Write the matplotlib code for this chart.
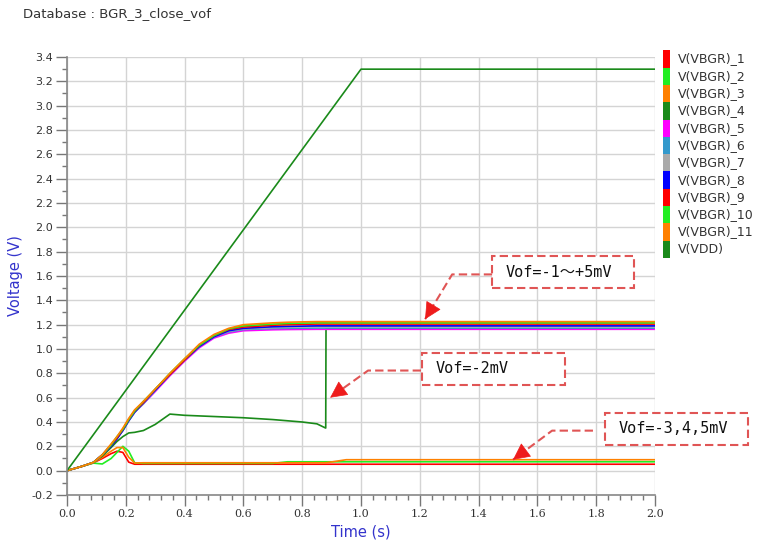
import numpy as np
import matplotlib
matplotlib.use("Agg")
import matplotlib.pyplot as plt
from matplotlib.patches import Rectangle


plt.rcParams['font.family'] = ['DejaVu Sans', 'Noto Sans CJK JP']

# sample times shared by the VBGR traces (s)
time_s = [0.00, 0.05, 0.09, 0.12, 0.15, 0.17, 0.19, 0.21, 0.23, 0.26,
          0.30, 0.35, 0.40, 0.45, 0.50, 0.55, 0.60, 0.70, 0.75, 0.80,
          0.85, 0.88, 0.881, 0.95, 1.20, 2.00]

# Vof = -5, -4, -3 mV : collapse to ~0.05 V
vbgr_1 = [0, 0.035, 0.065, 0.10, 0.14, 0.16, 0.15, 0.07, 0.053, 0.053,
          0.053, 0.053, 0.053, 0.053, 0.053, 0.053, 0.053, 0.053, 0.053, 0.053,
          0.053, 0.053, 0.053, 0.053, 0.053, 0.053]
vbgr_2 = [0, 0.035, 0.062, 0.055, 0.10, 0.15, 0.20, 0.16, 0.065, 0.060,
          0.060, 0.060, 0.060, 0.060, 0.060, 0.060, 0.060, 0.060, 0.073, 0.073,
          0.073, 0.073, 0.073, 0.073, 0.073, 0.073]
vbgr_3 = [0, 0.035, 0.066, 0.11, 0.16, 0.19, 0.19, 0.11, 0.063, 0.065,
          0.065, 0.065, 0.065, 0.065, 0.065, 0.065, 0.065, 0.065, 0.065, 0.065,
          0.065, 0.065, 0.065, 0.090, 0.090, 0.090]
# Vof = -2 mV : stuck low, jumps up at 0.88 s
vbgr_4 = [0, 0.035, 0.068, 0.12, 0.19, 0.24, 0.28, 0.31, 0.315, 0.33,
          0.38, 0.465, 0.455, 0.45, 0.445, 0.44, 0.435, 0.42, 0.41, 0.40,
          0.385, 0.35, 1.165, 1.165, 1.165, 1.165]
# Vof = -1 ... +5 mV : normal start-up
vbgr_5 = [0, 0.035, 0.068, 0.13, 0.21, 0.27, 0.34, 0.42, 0.48, 0.55,
          0.65, 0.78, 0.90, 1.01, 1.09, 1.13, 1.15, 1.158, 1.160, 1.161,
          1.162, 1.162, 1.162, 1.162, 1.162, 1.162]
vbgr_6 = [0, 0.035, 0.068, 0.13, 0.21, 0.27, 0.33, 0.41, 0.48, 0.55,
          0.66, 0.79, 0.91, 1.02, 1.10, 1.14, 1.16, 1.168, 1.170, 1.171,
          1.172, 1.172, 1.172, 1.172, 1.172, 1.172]
vbgr_7 = [0, 0.035, 0.068, 0.13, 0.21, 0.27, 0.33, 0.41, 0.48, 0.56,
          0.66, 0.79, 0.91, 1.02, 1.10, 1.145, 1.165, 1.175, 1.178, 1.180,
          1.182, 1.182, 1.182, 1.182, 1.182, 1.182]
vbgr_8 = [0, 0.035, 0.068, 0.13, 0.20, 0.26, 0.33, 0.41, 0.48, 0.56,
          0.66, 0.79, 0.91, 1.02, 1.10, 1.15, 1.17, 1.183, 1.186, 1.188,
          1.190, 1.190, 1.190, 1.190, 1.190, 1.190]
vbgr_9 = [0, 0.035, 0.068, 0.13, 0.21, 0.27, 0.34, 0.42, 0.49, 0.56,
          0.67, 0.79, 0.91, 1.03, 1.11, 1.16, 1.18, 1.195, 1.200, 1.203,
          1.205, 1.205, 1.205, 1.205, 1.205, 1.205]
vbgr_10 = [0, 0.035, 0.068, 0.13, 0.21, 0.28, 0.34, 0.42, 0.49, 0.57,
           0.67, 0.80, 0.92, 1.03, 1.11, 1.165, 1.19, 1.205, 1.210, 1.213,
           1.215, 1.215, 1.215, 1.215, 1.215, 1.215]
vbgr_11 = [0, 0.035, 0.068, 0.13, 0.22, 0.28, 0.35, 0.43, 0.50, 0.57,
           0.67, 0.80, 0.92, 1.04, 1.12, 1.17, 1.20, 1.215, 1.220, 1.223,
           1.225, 1.225, 1.225, 1.225, 1.225, 1.225]

# supply ramp
vdd_time = [0.0, 1.0, 2.0]
vdd = [0.0, 3.3, 3.3]

series_names = ["V(VBGR)_1", "V(VBGR)_2", "V(VBGR)_3", "V(VBGR)_4",
                "V(VBGR)_5", "V(VBGR)_6", "V(VBGR)_7", "V(VBGR)_8",
                "V(VBGR)_9", "V(VBGR)_10", "V(VBGR)_11", "V(VDD)"]
series_colors = ["#ff0000", "#22ee22", "#ff8000", "#1a8a1a",
                 "#ff00ff", "#3399cc", "#aaaaaa", "#0000ff",
                 "#ff0000", "#22ee22", "#ff8000", "#1a8a1a"]
vbgr_all = [vbgr_1, vbgr_2, vbgr_3, vbgr_4, vbgr_5, vbgr_6, vbgr_7,
            vbgr_8, vbgr_9, vbgr_10, vbgr_11]

notes = ["Vof=-1～+5mV", "Vof=-2mV", "Vof=-3,4,5mV"]


fig = plt.figure(figsize=(7.68, 5.42), dpi=100)
ax = fig.add_axes([67 / 768, 47 / 542, 588 / 768, 438 / 542])

for vals, col in zip(vbgr_all, series_colors[:11]):
    ax.plot(time_s, vals, color=col, lw=1.2)
ax.plot(vdd_time, vdd, color=series_colors[11], lw=1.2)

ax.set_xlim(0, 2.0)
ax.set_ylim(-0.2, 3.4)
ax.set_xticks(np.arange(0, 2.001, 0.2))
ax.set_xticks(np.arange(0, 2.001, 0.04), minor=True)
ax.set_yticks(np.arange(-0.2, 3.401, 0.2))
ax.set_yticks(np.arange(-0.2, 3.401, 0.1), minor=True)
ax.set_xticklabels([f"{v:.1f}" for v in np.arange(0, 2.001, 0.2)],
                   family="DejaVu Serif")
ax.set_yticklabels([f"{v:.1f}" for v in np.arange(-0.2, 3.401, 0.2)])
ax.tick_params(which="major", direction="out", length=8, width=1,
               color="#777777", labelsize=8, labelcolor="#333333", pad=2)
ax.tick_params(which="minor", direction="out", length=3.5, width=1,
               color="#777777")
ax.grid(True, which="major", color="#d4d4d4", lw=1.0)
ax.set_axisbelow(True)
for s in ["top", "right"]:
    ax.spines[s].set_visible(False)
for s in ["left", "bottom"]:
    ax.spines[s].set_color("#888888")
    ax.spines[s].set_linewidth(1.2)

ax.set_xlabel("Time (s)", color="#3333cc", fontsize=10.5, labelpad=4)
ax.set_ylabel("Voltage (V)", color="#3333cc", fontsize=10.5, labelpad=6)
fig.text(23 / 768, 1 - 14 / 542, "Database : BGR_3_close_vof",
         fontsize=9.5, color="#333333", va="center")

# legend column drawn at the right of the axes
for i, (name, col) in enumerate(zip(series_names, series_colors)):
    yc = 1 - (59 + i * 17.3) / 542
    fig.add_artist(Rectangle((663 / 768, yc - 8.65 / 542), 7 / 768, 17.3 / 542,
                             transform=fig.transFigure, color=col, lw=0))
    fig.text(678 / 768, yc, name, fontsize=9, color="#333333", va="center")

# dashed callouts
red = "#e05555"
head_red = "#ee1c1c"
boxes = [(1.446, 1.498, 0.483, 0.263), (1.207, 0.708, 0.487, 0.263),
         (1.830, 0.214, 0.486, 0.263)]
arrows = [((1.446, 1.613), (1.31, 1.613), (1.218, 1.245)),
          ((1.204, 0.823), (1.024, 0.823), (0.895, 0.600)),
          ((1.789, 0.329), (1.650, 0.329), (1.517, 0.090))]
for text, (bx, by, bw, bh), (p0, p1, p2) in zip(notes, boxes, arrows):
    ax.add_patch(Rectangle((bx, by), bw, bh, fill=True, facecolor="white",
                           edgecolor=red, lw=1.5, ls=(0, (4, 2)),
                           clip_on=False, zorder=5))
    ax.text(bx + 0.045, by + bh / 2, text, fontsize=11, va="center",
            family=["DejaVu Sans Mono", "Noto Sans CJK JP"], color="#111111",
            clip_on=False, zorder=6)
    ax.plot([p0[0], p1[0], p2[0]], [p0[1], p1[1], p2[1]], color=red, lw=1.5,
            ls=(0, (4, 2)), clip_on=False, zorder=5)
    # solid filled head at the tip
    hx = p2[0] + 0.3 * (p1[0] - p2[0])
    hy = p2[1] + 0.3 * (p1[1] - p2[1])
    ax.annotate("", xy=p2, xytext=(hx, hy),
                arrowprops=dict(arrowstyle="-|>,head_length=1.1,head_width=0.55",
                                facecolor=head_red, edgecolor=head_red, lw=0.5,
                                shrinkA=0, shrinkB=0),
                zorder=6, annotation_clip=False)

fig.savefig("out.png", dpi=100)
